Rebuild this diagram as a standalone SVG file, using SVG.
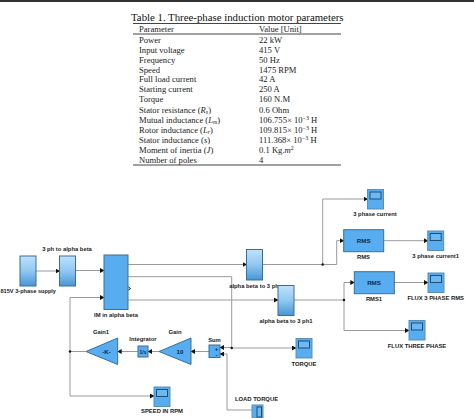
<svg xmlns="http://www.w3.org/2000/svg" xmlns:xlink="http://www.w3.org/1999/xlink" width="474" height="418" viewBox="0 0 474 418">
<style>
.t{font-family:"Liberation Serif","Times New Roman",serif;font-size:8.6px;fill:#222}
.title{font-size:10.8px;fill:#111}
.l{font-family:"Liberation Sans",Arial,sans-serif;font-size:5.85px;font-weight:bold;fill:#222;text-anchor:middle}
.w{font-family:"Liberation Sans",Arial,sans-serif;font-size:6.2px;font-weight:bold;fill:#0b2a4a;text-anchor:middle}
.rule{stroke:#444;fill:none}
.b{fill:#57adf0;stroke:#3a6f98;stroke-width:1}
.g{fill:url(#grad);stroke:#3a6f98;stroke-width:1}
.s{fill:#57adf0;stroke:#5a8fb8;stroke-width:1}
.sc{fill:#6db8ee;stroke:#1d4f7c;stroke-width:1}
.c{fill:none;stroke:#9a9a9a;stroke-width:1;marker-end:url(#a)}
.n{fill:none;stroke:#9a9a9a;stroke-width:1}
.d{fill:#111}
</style>
<defs>
<linearGradient id="grad" x1="0" y1="0" x2="0" y2="1"><stop offset="0" stop-color="#bfe1fb"/><stop offset="0.5" stop-color="#90c8f2"/><stop offset="1" stop-color="#4795d6"/></linearGradient>
<marker id="a" markerWidth="5" markerHeight="5" refX="4" refY="2.5" orient="auto" markerUnits="userSpaceOnUse"><path d="M0,0L4.500,2.500L0,5Z" fill="#111"/></marker>
<g id="scope"><rect class="s" width="16" height="19.500"/><rect class="sc" x="2.500" y="2.500" width="11" height="7"/></g>
</defs>
<rect width="474" height="418" fill="#fff"/>
<rect width="474" height="2" fill="#333"/>
<g id="table">
<text class="t title" x="131" y="21">Table 1. Three-phase induction motor parameters</text>
<path class="rule" d="M133,23.500H341M133,34H341M133,165H341"/>
<text class="t" x="139" y="32">Parameter</text><text class="t" x="259" y="32">Value [Unit]</text>
<text class="t" x="139" y="42.500">Power</text><text class="t" x="259" y="42.500">22 kW</text>
<text class="t" x="139" y="52.500">Input voltage</text><text class="t" x="259" y="52.500">415 V</text>
<text class="t" x="139" y="62.500">Frequency</text><text class="t" x="259" y="62.500">50 Hz</text>
<text class="t" x="139" y="72.500">Speed</text><text class="t" x="259" y="72.500">1475 RPM</text>
<text class="t" x="139" y="82">Full load current</text><text class="t" x="259" y="82">42 A</text>
<text class="t" x="139" y="92">Starting current</text><text class="t" x="259" y="92">250 A</text>
<text class="t" x="139" y="102">Torque</text><text class="t" x="259" y="102">160 N.M</text>
<text class="t" x="139" y="112.500">Stator resistance (<tspan font-style="italic">R<tspan font-size="6" dy="1.500">s</tspan></tspan><tspan dy="-1.500">)</tspan></text><text class="t" x="259" y="112.500">0.6 Ohm</text>
<text class="t" x="139" y="122.500">Mutual inductance (<tspan font-style="italic">L<tspan font-size="6" dy="1.500">m</tspan></tspan><tspan dy="-1.500">)</tspan></text><text class="t" x="259" y="122.500">106.755× 10<tspan font-size="6" dy="-3">−3</tspan><tspan dy="3"> H</tspan></text>
<text class="t" x="139" y="132.500">Rotor inductance (<tspan font-style="italic">L<tspan font-size="6" dy="1.500">r</tspan></tspan><tspan dy="-1.500">)</tspan></text><text class="t" x="259" y="132.500">109.815× 10<tspan font-size="6" dy="-3">−3</tspan><tspan dy="3"> H</tspan></text>
<text class="t" x="139" y="142.500">Stator inductance (<tspan font-style="italic">s</tspan>)</text><text class="t" x="259" y="142.500">111.368× 10<tspan font-size="6" dy="-3">−3</tspan><tspan dy="3"> H</tspan></text>
<text class="t" x="139" y="153">Moment of inertia (<tspan font-style="italic">J</tspan>)</text><text class="t" x="259" y="153">0.1 Kg.<tspan font-style="italic">m</tspan><tspan font-size="6" dy="-3">2</tspan></text>
<text class="t" x="139" y="162.500">Number of poles</text><text class="t" x="259" y="162.500">4</text>
</g>
<g id="connectors">
<path class="c" d="M36,271H59.500"/>
<path class="c" d="M75.500,270.500H104"/>
<path class="c" d="M128,264.500H246.500"/>
<path class="c" d="M128,300H278"/>
<path class="n" d="M128,276.700H231.700V348"/>
<path class="c" d="M231.700,347.500H220"/>
<path class="c" d="M231.700,348H296"/>
<path class="c" d="M262.500,264.500H322.700V199H367.500"/>
<path class="c" d="M322.700,264.500H336.700V240.700H343.700"/>
<path class="c" d="M383.700,240.700H427.700"/>
<path class="c" d="M294,300H344V282.500H354.300"/>
<path class="c" d="M344,300V330.500H409"/>
<path class="c" d="M394,282.500H428"/>
<path class="c" d="M209,351.500H191"/>
<path class="c" d="M159,351.500H148"/>
<path class="c" d="M138,351.500H117.700"/>
<path class="n" d="M86,351.500H70"/>
<path class="c" d="M70,351.500V297.500H104"/>
<path class="c" d="M70,351.500V396H154"/>
<path class="c" d="M252,410H227V354H220"/>
<circle class="d" cx="70" cy="351.500" r="1.200"/>
<circle class="d" cx="231.700" cy="348" r="1.200"/>
<circle class="d" cx="322.700" cy="264.500" r="1.200"/>
<circle class="d" cx="344" cy="300" r="1.200"/>
</g>
<g id="supply"><rect class="g" x="20" y="256" width="16" height="30"/><text class="l" x="0.500" y="293" textLength="55.500" lengthAdjust="spacingAndGlyphs" style="text-anchor:start">815V 3-phase supply</text></g>
<g id="ph-to-alpha"><rect class="g" x="59.500" y="256" width="16" height="30"/><text class="l" x="67" y="251">3 ph to alpha beta</text></g>
<g id="im"><rect class="b" x="104" y="255" width="24" height="54.500"/><path d="M128.500,287L130.500,288.500L128.500,290" fill="none" stroke="#111" stroke-width="1"/><text class="l" x="116" y="317">IM in alpha beta</text></g>
<g id="alpha-to-3ph"><rect class="g" x="246.500" y="249.500" width="16" height="30.500"/><text class="l" x="254" y="287.500">alpha beta to 3 ph</text></g>
<g id="alpha-to-3ph1"><rect class="g" x="278" y="285.500" width="16" height="30"/><text class="l" x="286" y="323">alpha beta to 3 ph1</text></g>
<g id="rms"><rect class="b" x="343.700" y="229.700" width="40" height="22"/><text class="w" x="363.700" y="243">RMS</text><text class="l" x="363.500" y="259">RMS</text></g>
<g id="rms1"><rect class="b" x="354.300" y="271.700" width="40" height="22"/><text class="w" x="374" y="285">RMS</text><text class="l" x="374" y="301">RMS1</text></g>
<g id="scope-current"><use xlink:href="#scope" href="#scope" x="367.500" y="189.500"/><text class="l" x="375" y="216">3 phase current</text></g>
<g id="scope-current1"><use xlink:href="#scope" href="#scope" x="427.700" y="231"/><text class="l" x="435.700" y="258">3 phase current1</text></g>
<g id="scope-flux-rms"><use xlink:href="#scope" href="#scope" x="428" y="273"/><text class="l" x="435.700" y="300">FLUX 3 PHASE RMS</text></g>
<g id="scope-flux"><use xlink:href="#scope" href="#scope" x="409" y="320.500"/><text class="l" x="417" y="347.500">FLUX THREE PHASE</text></g>
<g id="scope-torque"><use xlink:href="#scope" href="#scope" x="296" y="338.500"/><text class="l" x="304" y="365.500">TORQUE</text></g>
<g id="scope-speed"><use xlink:href="#scope" href="#scope" x="154" y="387"/><text class="l" x="162" y="413">SPEED IN RPM</text></g>
<g id="scope-load"><rect class="s" x="252" y="405" width="11" height="13"/><rect class="sc" x="257" y="407" width="4.500" height="10"/><text class="l" x="256.500" y="401">LOAD TORQUE</text></g>
<g id="gain1"><path class="b" d="M86,351.500L117.700,338V364.500Z"/><text class="w" x="106.500" y="353.500">-K-</text><text class="l" x="101" y="334">Gain1</text></g>
<g id="integrator"><rect class="b" x="138" y="346" width="10" height="11"/><text class="w" x="143" y="353.500" style="font-size:5px">1/s</text><text class="l" x="143" y="341">Integrator</text></g>
<g id="gain"><path class="b" d="M159,351.500L191,338V364.500Z"/><text class="w" x="180" y="353.500">10</text><text class="l" x="175" y="334">Gain</text></g>
<g id="sum"><rect class="b" x="209" y="345" width="11" height="12.500"/><text class="w" x="216.500" y="350.500">+</text><text class="w" x="216.500" y="356.500">-</text><text class="l" x="214.500" y="342">Sum</text></g>
</svg>
